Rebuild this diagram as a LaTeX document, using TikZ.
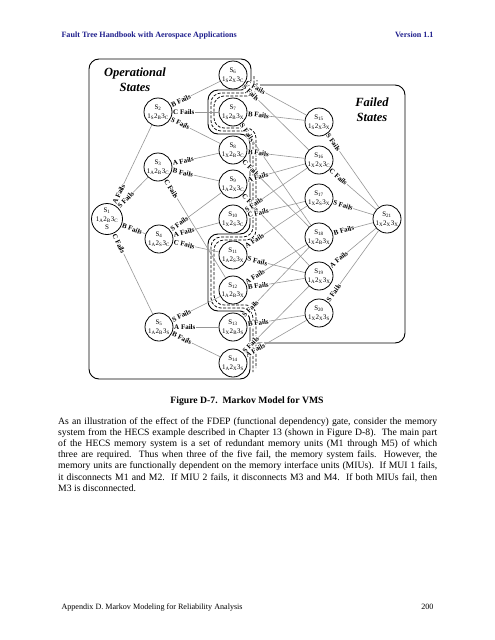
\documentclass[tikz,border=0pt]{standalone}
\usepackage{fontspec}
\setmainfont{Liberation Serif}
\usetikzlibrary{arrows.meta}
\definecolor{hdr}{RGB}{30,30,140}
\definecolor{edgegray}{RGB}{150,150,150}
\newcommand\stt[4]{S\textsubscript{#1}\\1\textsubscript{#2}2\textsubscript{#3}3\textsubscript{#4}}
\begin{document}
\begin{tikzpicture}[x=1pt,y=-1pt,
 state/.style={circle,draw,fill=white,line width=0.8pt,minimum size=28pt,inner sep=0pt,align=center,font=\fontsize{7}{8.5}\selectfont},
 tr/.style={draw=edgegray,line width=0.6pt},
 lab/.style={sloped,pos=0,anchor=west,fill=white,inner sep=0.5pt,text=black,font=\bfseries\fontsize{7}{8}\selectfont},
 bnd/.style={line width=0.9pt,rounded corners=10pt},
 dsh/.style={line width=0.75pt,dash pattern=on 3pt off 1.6pt,rounded corners=10pt},
 title/.style={font=\bfseries\itshape\fontsize{12.5}{15}\selectfont,align=center}
]
\useasboundingbox (0,0) rectangle (495,640);
% header
\node[anchor=base west,text=hdr,font=\bfseries\fontsize{8.1}{9}\selectfont] (hl) at (58,37) {Fault Tree Handbook with Aerospace Applications};
\node[anchor=base east,text=hdr,font=\bfseries\fontsize{8.1}{9}\selectfont] (hr) at (437,37) {Version 1.1};
% boundaries
\draw[bnd] (89,220) -- (89,59) -- (251,59) -- (251,90) -- (208,90) -- (208,134) -- (250,134) -- (250,234) -- (208,234) -- (208,311) -- (250,311) -- (250,379) -- (89,379) -- cycle;
\draw[dsh] (254,76) -- (254,93) -- (211,93) -- (211,131) -- (253,131) -- (253,237) -- (211,237) -- (211,308) -- (253,308) -- (253,372);
\draw[dsh,dash phase=1.6pt] (257,80) -- (257,96) -- (214,96) -- (214,128) -- (256,128) -- (256,240) -- (214,240) -- (214,305) -- (256,305) -- (256,368);
\draw[bnd] (260,85) -- (405,85) -- (405,343) -- (256,343);
\node[title] (op) at (135,80) {Operational\\States};
\node[title] (fs) at (372,110) {Failed\\States};
% states
\node[state] (S1) at (107,219) {\stt{1}{A}{B}{C}\\S};
\node[state] (S2) at (158,112) {\stt{2}{S}{B}{C}};
\node[state] (S3) at (158,167) {\stt{3}{A}{B}{C}};
\node[state] (S4) at (159,239) {\stt{4}{A}{S}{C}};
\node[state] (S5) at (159,327) {\stt{5}{A}{B}{S}};
\node[state] (S6) at (233,75) {\stt{6}{S}{X}{C}};
\node[state] (S7) at (233,112) {\stt{7}{S}{B}{X}};
\node[state] (S8) at (233,150) {\stt{8}{X}{B}{C}};
\node[state] (S9) at (233,184) {\stt{9}{A}{X}{C}};
\node[state] (S10) at (233,219) {\stt{10}{X}{S}{C}};
\node[state] (S11) at (233,255) {\stt{11}{A}{S}{X}};
\node[state] (S12) at (233,290) {\stt{12}{A}{B}{X}};
\node[state] (S13) at (233,327) {\stt{13}{X}{B}{S}};
\node[state] (S14) at (233,363) {\stt{14}{A}{X}{S}};
\node[state] (S15) at (319,122) {\stt{15}{S}{X}{X}};
\node[state] (S16) at (319,160) {\stt{16}{X}{X}{C}};
\node[state] (S17) at (319,198) {\stt{17}{X}{S}{X}};
\node[state] (S18) at (319,237) {\stt{18}{X}{B}{X}};
\node[state] (S19) at (319,276) {\stt{19}{A}{X}{X}};
\node[state] (S20) at (319,313) {\stt{20}{X}{X}{S}};
\node[state] (S21) at (387,219) {\stt{21}{X}{X}{X}};
% transitions
\draw[tr] (S1) -- node[lab]{A Fails} (S2);
\draw[tr] (S1) -- node[lab]{S Fails} (S3);
\draw[tr] (S1) -- node[lab]{B Fails} (S4);
\draw[tr] (S1) -- node[lab]{C Fails} (S5);
\draw[tr] (S2) -- node[lab]{B Fails} (S6);
\draw[tr] (S2) -- node[lab]{C Fails} (S7);
\draw[tr] (S2) -- node[lab]{S Fails} (S8);
\draw[tr] (S3) -- node[lab]{A Fails} (S8);
\draw[tr] (S3) -- node[lab]{B Fails} (S9);
\draw[tr] (S3) -- node[lab]{C Fails} (S12);
\draw[tr] (S4) -- node[lab]{S Fails} (S9);
\draw[tr] (S4) -- node[lab]{A Fails} (S10);
\draw[tr] (S4) -- node[lab]{C Fails} (S11);
\draw[tr] (S5) -- node[lab]{S Fails} (S12);
\draw[tr] (S5) -- node[lab]{A Fails} (S13);
\draw[tr] (S5) -- node[lab]{B Fails} (S14);
\draw[tr] (S6) -- node[lab]{C Fails} (S15);
\draw[tr] (S6) -- node[lab]{S Fails} (S16);
\draw[tr] (S7) -- node[lab]{B Fails} (S15);
\draw[tr] (S7) -- node[lab]{S Fails} (S18);
\draw[tr] (S8) -- node[lab]{B Fails} (S16);
\draw[tr] (S8) -- node[lab]{C Fails} (S18);
\draw[tr] (S9) -- node[lab]{A Fails} (S16);
\draw[tr] (S9) -- node[lab]{C Fails} (S19);
\draw[tr] (S10) -- node[lab]{S Fails} (S16);
\draw[tr] (S10) -- node[lab]{C Fails} (S17);
\draw[tr] (S11) -- node[lab]{A Fails} (S17);
\draw[tr] (S11) -- node[lab]{S Fails} (S19);
\draw[tr] (S12) -- node[lab]{A Fails} (S18);
\draw[tr] (S12) -- node[lab]{B Fails} (S19);
\draw[tr] (S13) -- node[lab]{S Fails} (S18);
\draw[tr] (S13) -- node[lab]{B Fails} (S20);
\draw[tr] (S14) -- node[lab]{S Fails} (S19);
\draw[tr] (S14) -- node[lab]{A Fails} (S20);
\draw[tr] (S15) -- node[lab]{S Fails} (S21);
\draw[tr] (S16) -- node[lab]{C Fails} (S21);
\draw[tr] (S17) -- node[lab]{S Fails} (S21);
\draw[tr] (S18) -- node[lab]{B Fails} (S21);
\draw[tr] (S19) -- node[lab]{A Fails} (S21);
\draw[tr] (S20) -- node[lab]{S Fails} (S21);
% caption and text
\node[font=\bfseries\fontsize{9.7}{11}\selectfont] (cap) at (247,401) {Figure D-7.\ \ Markov Model for VMS};
\node[anchor=north west,inner sep=0pt,font=\fontsize{9.7}{11.2}\selectfont] (para) at (58,417) {\parbox{379pt}{\setlength{\parfillskip}{0pt plus 1fil}As an illustration of the effect of the FDEP (functional dependency) gate, consider the memory\linebreak
system from the HECS example described in Chapter 13 (shown in Figure D-8).\ \ The main part\linebreak
of the HECS memory system is a set of redundant memory units (M1 through M5) of which\linebreak
three are required.\ \ Thus when three of the five fail, the memory system fails.\ \ However, the\linebreak
memory units are functionally dependent on the memory interface units (MIUs).\ \ If MUI 1 fails,\linebreak
it disconnects M1 and M2.\ \ If MIU 2 fails, it disconnects M3 and M4.\ \ If both MIUs fail, then\linebreak
M3 is disconnected.}};
% footer
\node[anchor=base west,font=\fontsize{8.1}{9}\selectfont] (fl) at (58,609) {Appendix D. Markov Modeling for Reliability Analysis};
\node[anchor=base east,font=\fontsize{8.1}{9}\selectfont] (fr) at (437,609) {200};
\end{tikzpicture}
\end{document}
